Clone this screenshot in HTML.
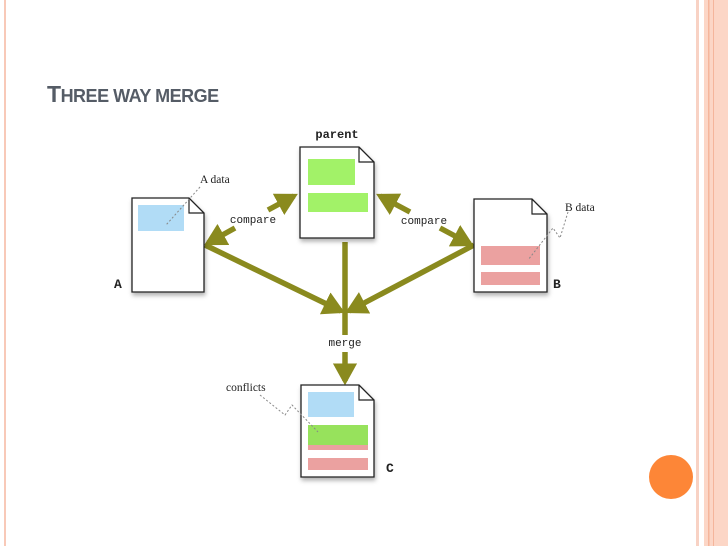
<!DOCTYPE html>
<html><head><style>
html,body{margin:0;padding:0;background:#fff}
body{width:728px;height:546px;position:relative;overflow:hidden;font-family:"Liberation Sans",sans-serif}
</style></head><body>
<svg width="728" height="546" style="position:absolute;left:0;top:0">
<defs>
<marker id="ah" markerWidth="4" markerHeight="4.4" refX="3.2" refY="2.2" orient="auto" markerUnits="strokeWidth">
<path d="M0,0 L4,2.2 L0,4.4 z" fill="#8a8a1e"/></marker>
<filter id="sh" x="-20%" y="-20%" width="150%" height="150%"><feDropShadow dx="1" dy="3" stdDeviation="2" flood-opacity="0.3"/></filter>
</defs>
<rect x="4" y="0" width="2" height="546" fill="#f8c9b8"/>
<rect x="696" y="0" width="3" height="546" fill="#f8d2c4"/>
<rect x="704" y="0" width="24" height="546" fill="#fcd6c6"/>
<rect x="708" y="0" width="1.5" height="546" fill="#f5b59b"/>
<rect x="713" y="0" width="1" height="546" fill="#f5b59b"/>
<circle cx="671" cy="477" r="22" fill="#fd8637"/>
<text x="47" y="102" font-family="Liberation Sans" font-weight="bold" fill="#555c66" font-size="23" letter-spacing="-0.5">T<tspan font-size="18">HREE WAY MERGE</tspan></text>

<g stroke="#8a8a1e" stroke-width="5.5" fill="none">
<line x1="235" y1="228" x2="208" y2="243" marker-end="url(#ah)"/>
<line x1="268" y1="210" x2="294" y2="196" marker-end="url(#ah)"/>
<line x1="410" y1="212" x2="380" y2="196" marker-end="url(#ah)"/>
<line x1="440" y1="228" x2="470" y2="244" marker-end="url(#ah)"/>
<line x1="205" y1="245" x2="341" y2="311" marker-end="url(#ah)"/>
<line x1="474" y1="245" x2="349" y2="311" marker-end="url(#ah)"/>
<line x1="345" y1="242" x2="345" y2="335"/>
<line x1="345" y1="352" x2="345" y2="381" marker-end="url(#ah)"/>
</g>

<g stroke="#222" stroke-width="1.3" fill="#fff" filter="url(#sh)">
<path d="M300,147 H359 L374,162 V238 H300 z"/>
<path d="M132,198 H189 L204,213 V292 H132 z"/>
<path d="M474,199 H532 L547,214 V292 H474 z"/>
<path d="M301,385 H359 L374,400 V477 H301 z"/>
</g>
<g stroke="#222" stroke-width="1.2" fill="none">
<path d="M359,147 V162 H374"/><path d="M189,198 V213 H204"/><path d="M532,199 V214 H547"/><path d="M359,385 V400 H374"/>
</g>
<rect x="308" y="159" width="47" height="26" fill="#a2f268"/>
<rect x="308" y="193" width="60" height="19" fill="#a2f268"/>
<rect x="138" y="205" width="46" height="26" fill="#b1dcf6"/>
<rect x="481" y="246" width="59" height="19" fill="#eba1a0"/>
<rect x="481" y="272" width="59" height="13" fill="#eba1a0"/>
<rect x="308" y="392" width="46" height="25" fill="#b1dcf6"/>
<rect x="308" y="425" width="60" height="25" fill="#eba1a0"/>
<rect x="308" y="425" width="60" height="20" fill="#97e25c"/>
<rect x="308" y="458" width="60" height="12" fill="#eba1a0"/>

<g stroke="#888" stroke-width="1" stroke-dasharray="2,2" fill="none">
<path d="M200,187 L166,225"/>
<path d="M568,212 L560,238 L553,228 L528,260"/>
<path d="M260,395 L285,415 L292,405 L318,432"/>
</g>

<g font-family="Liberation Mono" font-size="11" fill="#222" text-anchor="middle">
<text x="337" y="138" font-weight="bold" font-size="12">parent</text>
<text x="253" y="223">compare</text>
<text x="424" y="224">compare</text>
<text x="345" y="346">merge</text>
</g>
<g font-family="Liberation Serif" font-size="11.5" fill="#222">
<text x="200" y="183">A data</text>
<text x="565" y="211">B data</text>
<text x="226" y="391">conflicts</text>
</g>
<g font-family="Liberation Mono" font-weight="bold" font-size="13" fill="#222">
<text x="114" y="288">A</text>
<text x="553" y="288">B</text>
<text x="386" y="472">C</text>
</g>
</svg>
</body></html>
